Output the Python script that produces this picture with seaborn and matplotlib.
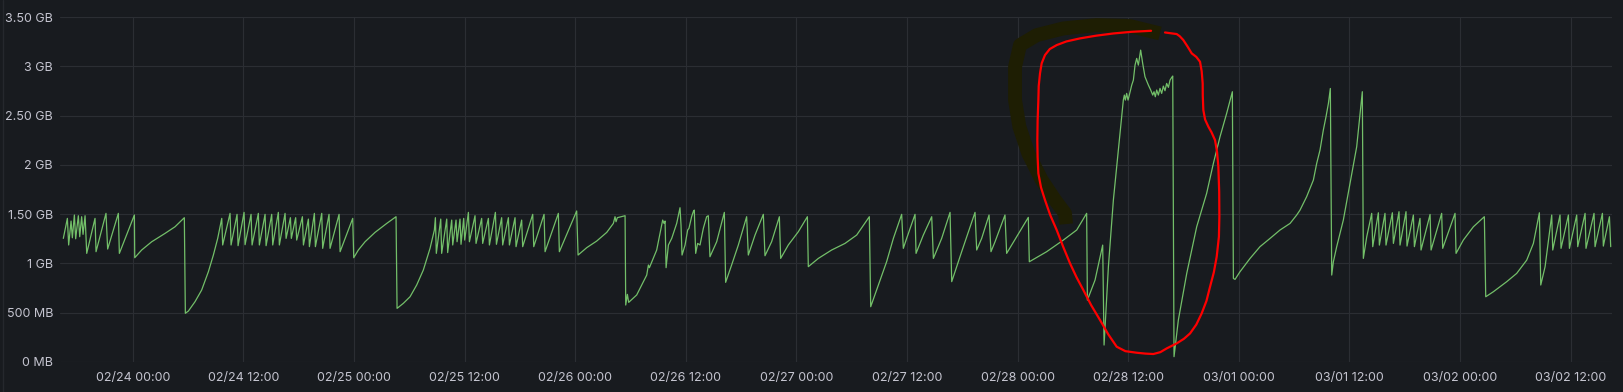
import matplotlib
matplotlib.use("Agg")
import matplotlib.pyplot as plt
import matplotlib.dates as mdates
from matplotlib.lines import Line2D
import pandas as pd
import seaborn as sns

# ---------------- data (hours after 02/24 00:00, memory in GB) ----------------
start_time = "2023-02-24 00:00"

hours_day1 = [-7.53, -7.09, -6.95, -6.69, -6.55, -6.33, -6.19, -5.90, -5.75, -5.54, -5.39, -5.17,
              -4.99, -4.09, -3.98, -2.90, -2.72, -1.56, -1.45, 0.18, 0.22, 0.97, 2.06, 3.51, 4.59,
              5.60, 5.71, 6.04, 6.76, 7.48, 8.21, 8.75, 9.22, 9.66, 9.76, 10.56, 10.67, 11.32, 11.43,
              12.08, 12.19, 12.84, 12.95, 13.63, 13.74, 14.36, 14.47, 15.08, 15.19, 15.80, 15.91,
              16.53, 16.64, 17.11, 17.21, 17.68, 17.79, 18.41, 18.52, 19.06, 19.17, 19.71, 19.82,
              20.51, 20.61, 21.30, 21.41, 22.39, 22.50, 23.87, 23.98]
mem_day1 = [1.254, 1.457, 1.187, 1.430, 1.260, 1.491, 1.250, 1.484, 1.271, 1.474, 1.295, 1.484,
            1.102, 1.457, 1.119, 1.508, 1.146, 1.508, 1.102, 1.491, 1.058, 1.136, 1.220, 1.305, 1.372,
            1.464, 0.494, 0.517, 0.612, 0.730, 0.916, 1.085, 1.254, 1.457, 1.187, 1.508, 1.187, 1.498, 1.180,
            1.518, 1.190, 1.498, 1.187, 1.508, 1.187, 1.498, 1.180, 1.498, 1.187, 1.518, 1.187,
            1.508, 1.254, 1.464, 1.254, 1.464, 1.237, 1.474, 1.187, 1.450, 1.170, 1.508, 1.170,
            1.508, 1.153, 1.498, 1.153, 1.498, 1.119, 1.457, 1.058]

hours_day2 = [24.48, 25.21, 26.29, 27.56, 28.57, 28.68, 29.36, 30.09, 30.81, 31.53, 32.26, 32.73,
              32.84, 32.94, 33.42, 33.52, 34.07, 34.17, 34.61, 34.72, 35.08, 35.19, 35.51, 35.62,
              35.91, 36.02, 36.42, 36.53, 37.14, 37.25, 37.86, 37.97, 38.59, 38.70, 39.35, 39.46,
              40.03, 40.14, 40.76, 40.87, 41.48, 41.59, 42.20, 42.31, 43.40, 43.51, 44.63, 44.74,
              46.18, 46.29, 48.17, 48.32]
mem_day2 = [1.136, 1.220, 1.315, 1.406, 1.474, 0.544, 0.595, 0.662, 0.781, 0.933, 1.153, 1.339,
            1.464, 1.102, 1.450, 1.102, 1.450, 1.110, 1.440, 1.187, 1.440, 1.220, 1.450, 1.194,
            1.457, 1.237, 1.518, 1.220, 1.484, 1.203, 1.457, 1.203, 1.457, 1.187, 1.518, 1.194,
            1.464, 1.187, 1.464, 1.187, 1.464, 1.170, 1.440, 1.170, 1.498, 1.170, 1.498, 1.119,
            1.508, 1.119, 1.532, 1.085]

hours_day3 = [49.26, 50.34, 51.43, 52.15, 52.33, 52.44, 52.58, 53.42, 53.49, 53.67, 53.81, 54.68,
              55.77, 55.95, 56.06, 56.85, 57.50, 57.65, 57.76, 57.87, 58.12, 58.48, 59.02, 59.38,
              59.49, 59.60, 59.93, 60.21, 60.35, 60.64, 60.82, 60.93, 61.08, 61.29, 61.55, 61.91,
              62.27, 62.45, 62.63, 63.36, 64.19, 64.33, 64.98, 65.71, 66.61, 66.79, 67.52, 68.42,
              68.60, 69.32, 70.16, 70.30, 71.13]
mem_day3 = [1.160, 1.227, 1.315, 1.406, 1.474, 1.423, 1.464, 1.484, 0.578, 0.686, 0.605, 0.680,
            0.882, 0.984, 0.957, 1.136, 1.440, 1.406, 1.430, 0.957, 1.187, 1.254, 1.406, 1.565,
            1.389, 1.085, 1.187, 1.339, 1.356, 1.474, 1.525, 1.541, 1.102, 1.203, 1.187, 1.356,
            1.474, 1.484, 1.068, 1.220, 1.518, 0.808, 0.984, 1.187, 1.474, 1.085, 1.288, 1.498,
            1.078, 1.220, 1.474, 1.051, 1.187]

hours_day4 = [72.22, 73.20, 73.30, 74.39, 75.83, 77.28, 78.55, 79.92, 80.07, 80.90, 81.80, 82.53,
              83.43, 83.61, 83.97, 84.88, 84.99, 85.78, 86.69, 86.87, 87.77, 88.68, 88.86, 89.94,
              91.39, 91.57, 92.11, 92.91, 93.12, 93.56, 94.64, 94.82, 97.17, 97.28, 99.16, 100.97,
              102.42, 103.50, 103.58, 104.41, 105.24, 105.39, 105.86, 106.40, 107.12, 107.48,
              107.59, 107.70, 107.84, 107.99, 108.13, 108.39, 108.57, 108.75, 108.93, 109.11,
              109.36, 109.58, 109.83, 110.20, 110.45, 110.67, 110.81, 110.95, 111.10, 111.28,
              111.46, 111.64, 111.82, 112.00, 112.18, 112.37, 112.55, 112.73, 112.84, 112.98,
              113.45, 114.36, 115.44]
mem_day4 = [1.322, 1.474, 0.967, 1.051, 1.136, 1.203, 1.288, 1.474, 0.561, 0.781, 1.018, 1.254,
            1.498, 1.153, 1.254, 1.498, 1.102, 1.288, 1.474, 1.051, 1.254, 1.518, 0.815, 1.119,
            1.518, 1.136, 1.254, 1.491, 1.119, 1.220, 1.491, 1.102, 1.467, 1.017, 1.119, 1.237,
            1.339, 1.508, 0.628, 0.831, 1.186, 0.172, 0.967, 1.643, 2.319, 2.657,
            2.708, 2.657, 2.725, 2.657, 2.708, 2.809, 2.860, 3.012, 3.080, 3.012,
            3.164, 3.029, 2.894, 2.809, 2.759, 2.708, 2.742, 2.691, 2.759, 2.708,
            2.776, 2.725, 2.799, 2.752, 2.826, 2.786, 2.860, 2.887, 2.901, 0.054,
            0.426, 0.899, 1.372]

hours_day5 = [116.52, 117.25, 117.97, 118.69, 119.31, 119.42, 119.60, 120.14, 121.23, 122.31,
              123.40, 124.48, 125.57, 126.29, 126.65, 127.37, 128.10, 128.46, 128.82, 129.18,
              129.47, 129.73, 129.94, 130.09, 130.27, 130.63, 131.35, 132.08, 132.80, 133.41,
              133.52, 133.89, 134.43, 134.54, 135.15, 135.26, 135.87, 135.98, 136.67, 136.78,
              137.39, 137.50, 138.15, 138.26, 138.95, 139.06, 139.67, 139.78, 140.76, 140.87,
              142.02, 142.13, 143.47, 143.58]
mem_day5 = [1.711, 2.015, 2.285, 2.522, 2.742, 0.848, 0.838, 0.916, 1.051, 1.170,
            1.254, 1.339, 1.406, 1.491, 1.541, 1.677, 1.846, 2.015, 2.150, 2.353,
            2.488, 2.623, 2.775, 0.882, 1.017, 1.170, 1.440, 1.812, 2.184, 2.742,
            1.051, 1.271, 1.508, 1.170, 1.514, 1.186, 1.508, 1.186, 1.514, 1.203,
            1.525, 1.186, 1.525, 1.176, 1.491, 1.170, 1.457, 1.136, 1.497, 1.136,
            1.508, 1.153, 1.508, 1.102]

hours_day6 = [144.37, 145.46, 146.65, 146.80, 147.63, 149.08, 150.16, 151.25, 151.97, 152.62,
              152.77, 153.24, 153.96, 154.07, 154.86, 154.97, 155.77, 155.88, 156.67, 156.78,
              157.58, 157.68, 158.55, 158.66, 159.46, 159.56, 160.22, 160.36]
mem_day6 = [1.237, 1.372, 1.474, 0.662, 0.713, 0.815, 0.899, 1.034, 1.203, 1.514,
            0.781, 0.967, 1.491, 1.136, 1.491, 1.153, 1.491, 1.153, 1.491, 1.170,
            1.508, 1.153, 1.508, 1.170, 1.508, 1.176, 1.474, 1.170]

# hand-drawn annotations (same units)
red_loop_hours = [110.49, 108.40, 106.40, 104.50, 102.78, 101.30, 100.25, 99.50, 98.98, 98.62,
                  98.44, 98.30, 98.26, 98.18, 98.15, 98.18, 98.26, 98.55, 98.98, 99.55, 100.25,
                  100.95, 101.70, 102.40, 103.14, 104.00, 104.95, 105.85, 106.76, 107.70, 108.93,
                  109.90, 110.74, 111.50, 112.19, 113.27, 114.05, 114.72, 115.40, 115.98, 116.50,
                  116.89, 117.30, 117.61, 117.85, 117.90, 117.88, 117.79, 117.65, 117.43, 117.05,
                  116.71, 116.35, 116.16, 116.10, 116.09, 115.98, 115.80, 115.40, 114.90, 114.45,
                  113.99, 113.60, 113.27, 112.00]
red_loop_gb = [3.360, 3.350, 3.333, 3.310, 3.283, 3.252, 3.215, 3.175, 3.114, 3.030,
               2.928, 2.800, 2.657, 2.450, 2.251, 2.080, 1.913, 1.770, 1.643, 1.490, 1.339,
               1.170, 1.000, 0.860, 0.730, 0.575, 0.426, 0.280, 0.155, 0.110, 0.094,
               0.085, 0.081, 0.100, 0.138, 0.189, 0.235, 0.290, 0.380, 0.493, 0.620,
               0.764, 0.910, 1.068, 1.270, 1.474, 1.730, 1.981, 2.130, 2.251, 2.330,
               2.387, 2.460, 2.556, 2.700, 2.826, 2.950, 3.046, 3.095, 3.131, 3.200,
               3.266, 3.305, 3.327, 3.343]
dark_stroke_hours = [111.46, 108.21, 104.59, 100.97, 98.08, 96.27, 95.73, 95.73, 96.20, 97.17,
                     98.62, 100.07, 101.15, 101.26]
dark_stroke_gb = [3.333, 3.408, 3.418, 3.384, 3.316, 3.215, 2.995, 2.657, 2.387, 2.116,
                  1.846, 1.643, 1.508, 1.399]

y_ticks = [0, 0.5, 1.0, 1.5, 2.0, 2.5, 3.0, 3.5]
y_labels = ["0 MB", "500 MB", "1 GB", "1.50 GB", "2 GB", "2.50 GB", "3 GB", "3.50 GB"]
x_range_hours = [-7.89, 160.5]

# ---------------- build frame ----------------
hours = hours_day1 + hours_day2 + hours_day3 + hours_day4 + hours_day5 + hours_day6
mem = mem_day1 + mem_day2 + mem_day3 + mem_day4 + mem_day5 + mem_day6
base = pd.Timestamp(start_time)
df = pd.DataFrame({"time": base + pd.to_timedelta(hours, unit="h"), "mem": mem})
red_df = pd.DataFrame({"time": base + pd.to_timedelta(red_loop_hours, unit="h"), "mem": red_loop_gb})
dark_df = pd.DataFrame({"time": base + pd.to_timedelta(dark_stroke_hours, unit="h"), "mem": dark_stroke_gb})

# ---------------- style ----------------
BG = "#181b1f"
GRID = "#2b2e33"
TEXT = "#c4c4cf"
GREEN = "#73bf69"

sns.set_theme(style="dark")
plt.rcParams["font.family"] = ["Inter", "DejaVu Sans"]

W, H = 1623, 392
fig = plt.figure(figsize=(W / 100, H / 100), dpi=100, facecolor=BG)
ax = fig.add_axes([60 / W, 1 - 362 / H, (1612 - 60) / W, (362 - 17) / H])
ax.set_facecolor(BG)

sns.lineplot(data=df, x="time", y="mem", ax=ax, color=GREEN, linewidth=0.9,
             sort=False, estimator=None, zorder=3)
sns.lineplot(data=dark_df, x="time", y="mem", ax=ax, color="#1e1e03", linewidth=10,
             sort=False, estimator=None, zorder=4, solid_capstyle="butt", solid_joinstyle="round")
sns.lineplot(data=red_df, x="time", y="mem", ax=ax, color="#ff0000", linewidth=1.6,
             sort=False, estimator=None, zorder=5, solid_joinstyle="round", solid_capstyle="round")

ax.set_ylim(0, 3.5)
ax.set_xlim(base + pd.Timedelta(hours=x_range_hours[0]), base + pd.Timedelta(hours=x_range_hours[1]))
ax.set_yticks(y_ticks)
ax.set_yticklabels(y_labels)
ax.xaxis.set_major_locator(mdates.HourLocator(byhour=[0, 12]))
ax.xaxis.set_major_formatter(mdates.DateFormatter("%m/%d %H:%M"))

ax.grid(True, color=GRID, linewidth=0.8)
for s in ax.spines.values():
    s.set_visible(False)
ax.tick_params(axis="y", length=0, pad=5, labelsize=9, labelcolor=TEXT)
ax.tick_params(axis="x", length=3, width=0.8, color=GRID, pad=4, labelsize=9, labelcolor=TEXT)
ax.set_xlabel("")
ax.set_ylabel("")

# panel border at the far left
fig.add_artist(Line2D([3 / W, 3 / W], [0, 1], transform=fig.transFigure, color="#25282d", linewidth=1))

fig.savefig("out.png", dpi=100, facecolor=BG)
